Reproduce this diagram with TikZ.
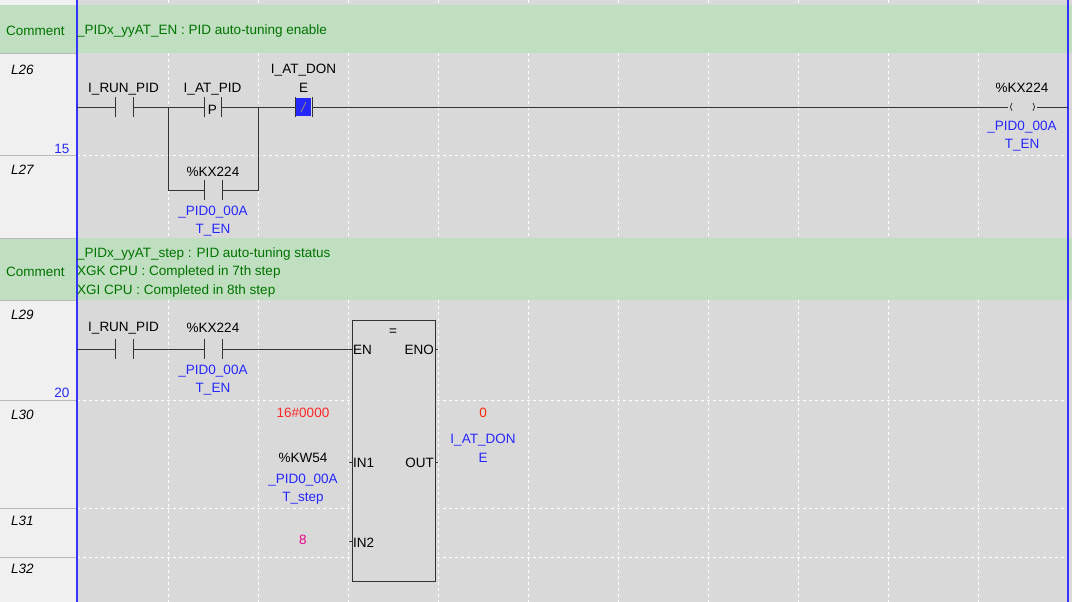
\documentclass[tikz,border=0pt]{standalone}
\usepackage{fontspec}
\setmainfont{Liberation Sans}
\definecolor{bandgreen}{HTML}{C0DEC0}
\definecolor{bg}{HTML}{D9D9D9}
\definecolor{leftbg}{HTML}{F0F0F0}
\begin{document}
\begin{tikzpicture}[x=1pt,y=-1pt,
  t/.style={inner sep=0pt,font=\fontsize{13.5}{15}\selectfont},
  bl/.style={t,text=blue!85!white},
  lab/.style={t,font=\fontsize{13.5}{15}\selectfont\itshape,anchor=west},
  cmt/.style={t,text=green!45!black,anchor=west},
  wire/.style={line width=0.8pt,black!80},
  grid/.style={white,dash pattern=on 3pt off 3pt,line width=0.5pt},
  rail/.style={blue!80!white,line width=2pt}]
\useasboundingbox (0,0) rectangle (1072,602);
\fill[bg] (0,0) rectangle (1072,602);
\fill[leftbg] (0,0) rectangle (77,602);
\fill[bandgreen] (0,5) rectangle (1072,53);
\fill[bandgreen] (0,238) rectangle (1072,300);
% grid
\foreach \x in {168,258,348,438,528,618,708,798,888,978}{
  \draw[grid] (\x,0)--(\x,5); \draw[grid] (\x,53)--(\x,238); \draw[grid] (\x,300)--(\x,602);}
\foreach \y in {155,400,508,557}{\draw[grid] (77,\y)--(1068,\y);}
\foreach \y in {53,155,238,300,400,508,557}{\draw[gray!55,line width=0.8pt] (0,\y)--(77,\y);}
\draw[rail] (77,0)--(77,602);
\draw[rail] (1068,0)--(1068,602);
% comments
\node[cmt] (c1) at (6,31) {Comment};
\node[cmt] (c1t) at (77,31) {\_PIDx\_yyAT\_EN : PID auto-tuning enable};
\node[cmt] (c2a) at (77,254) {\_PIDx\_yyAT\_step : PID auto-tuning status};
\node[cmt] (c2) at (6,272) {Comment};
\node[cmt] (c2b) at (77,272) {XGK CPU : Completed in 7th step};
\node[cmt] (c2c) at (77,291) {XGI CPU : Completed in 8th step};
% row labels
\node[lab] (l26) at (11,70) {L26};
\node[lab] (l27) at (11,170) {L27};
\node[lab] (l29) at (11,315) {L29};
\node[lab] (l30) at (11,415) {L30};
\node[lab] (l31) at (11,521) {L31};
\node[lab] (l32) at (11,569) {L32};
\node[bl] (n15) at (62,149) {15};
\node[bl] (n20) at (62,393) {20};
% rung 1
\draw[wire] (77,107)--(115,107) (115,97)--(115,117) (133,97)--(133,117) (133,107)--(204,107);
\draw[wire] (204,97)--(204,117) (221,97)--(221,117) (221,107)--(295,107);
\node[t] (p) at (212.5,110) {P};
\draw[wire] (168,107)--(168,190)--(204,190) (204,180)--(204,200) (222,180)--(222,200) (222,190)--(258,190)--(258,107);
\fill[blue!85!white] (296,98) rectangle (311,116);
\draw[wire] (295,97)--(295,117) (312,97)--(312,117);
\draw[yellow!70!black,line width=0.6pt] (301,112)--(306,102);
\draw[wire] (312,107)--(1008,107) (1037,107)--(1068,107);
\draw[wire] (1012,103) arc[start angle=135,end angle=225,radius=5.5pt];
\draw[wire] (1033,103) arc[start angle=45,end angle=-45,radius=5.5pt];
\node[t] (a1) at (123.5,89) {I\_RUN\_PID};
\node[t] (a2) at (212.5,89) {I\_AT\_PID};
\node[t] (a3) at (303.5,70) {I\_AT\_DON};
\node[t] (a3b) at (303.5,88) {E};
\node[t] (a4) at (213,172) {\%KX224};
\node[bl] (a5) at (213,212) {\_PID0\_00A};
\node[bl] (a5b) at (213,230) {T\_EN};
\node[t] (k1) at (1022,88) {\%KX224};
\node[bl] (k2) at (1022,127) {\_PID0\_00A};
\node[bl] (k2b) at (1022,145) {T\_EN};
% rung 2
\draw[wire] (77,349)--(115,349) (115,339)--(115,359) (133,339)--(133,359) (133,349)--(204,349);
\draw[wire] (204,339)--(204,359) (222,339)--(222,359) (222,349)--(352,349);
\node[t] (b1) at (123.5,328) {I\_RUN\_PID};
\node[t] (b2) at (213,328) {\%KX224};
\node[bl] (b3) at (213,371) {\_PID0\_00A};
\node[bl] (b3b) at (213,389) {T\_EN};
\node[draw=black!80,line width=0.8pt,fill=bg,minimum width=83pt,minimum height=261pt,anchor=north west,inner sep=0pt] (fb) at (352,320) {};
\node[t] (eq) at (393,332) {=};
\node[t,anchor=west] (en) at (353,350) {EN};
\node[t,anchor=east] (eno) at (434,350) {ENO};
\node[t,anchor=west] (in1) at (353,463) {IN1};
\node[t,anchor=east] (out) at (434,463) {OUT};
\node[t,anchor=west] (in2) at (353,543) {IN2};
\draw[wire] (435,349)--(438,349) (435,462)--(438,462) (349,462)--(352,462) (349,541)--(352,541);
\node[t,text=red!85!white] (v1) at (303,413) {16\#0000};
\node[t] (v2) at (303,458) {\%KW54};
\node[bl] (v3) at (303,480) {\_PID0\_00A};
\node[bl] (v3b) at (303,498) {T\_step};
\node[t,text=magenta] (v4) at (303,540) {8};
\node[t,text=red!70!orange] (o1) at (483,413) {0};
\node[bl] (o2) at (483,440) {I\_AT\_DON};
\node[bl] (o2b) at (483,458) {E};
\end{tikzpicture}
\end{document}
